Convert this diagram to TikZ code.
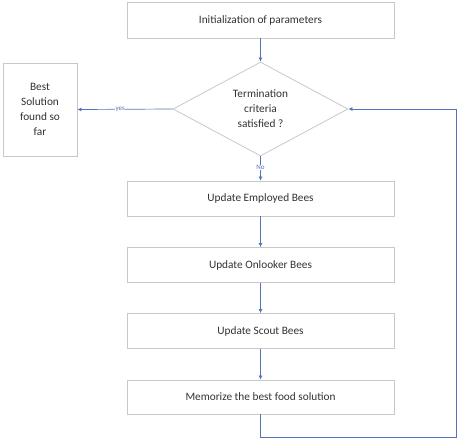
\documentclass[tikz,border=0pt]{standalone}
\usepackage{fontspec}
\setmainfont{Carlito}
\usetikzlibrary{arrows.meta,shapes.geometric}
\definecolor{boxline}{RGB}{200,200,200}
\definecolor{arrowc}{RGB}{84,116,184}
\definecolor{txt}{RGB}{50,50,50}
\begin{document}
\begin{tikzpicture}[x=1pt,y=-1pt,
  procbox/.style={draw=boxline,line width=0.8pt,fill=white,minimum width=267pt,minimum height=35pt,inner sep=0pt,font=\fontsize{11.3}{13.5}\selectfont,text=txt},
  flow/.style={draw=arrowc,line width=0.7pt,-{Latex[length=4pt,width=4pt]}},
  lab/.style={font=\fontsize{7}{8}\selectfont,text=arrowc,fill=white,inner sep=0.5pt}]
\useasboundingbox (0,0) rectangle (460,440);
\node[procbox,minimum height=36pt] (init) at (260.5,20) {Initialization of parameters};
\node[diamond,draw=boxline,line width=0.8pt,fill=white,minimum width=175pt,minimum height=94pt,inner sep=0pt,aspect=1.86,font=\fontsize{11.3}{15}\selectfont,text=txt,align=center] (dec) at (260.5,109) {Termination\\criteria\\satisfied ?};
\node[draw=boxline,line width=0.8pt,fill=white,minimum width=74pt,minimum height=93pt,inner sep=0pt,font=\fontsize{11.3}{15}\selectfont,text=txt,align=center] (best) at (40,109.5) {Best\\Solution\\found so\\far};
\node[procbox] (emp) at (260.5,198.5) {Update Employed Bees};
\node[procbox] (onl) at (260.5,265) {Update Onlooker Bees};
\node[procbox] (sco) at (260.5,331) {Update Scout Bees};
\node[procbox,minimum height=34pt] (mem) at (260.5,397) {Memorize the best food solution};
\coordinate (c1) at (456,437);
\draw[flow] (init) -- (dec.north);
\draw[flow] (dec.west) -- node[lab,pos=0.55]{yes} (best.east);
\draw[flow] (dec.south) -- node[lab,pos=0.45]{No} (emp.north);
\draw[flow] (emp) -- (onl);
\draw[flow] (onl) -- (sco);
\draw[flow] (sco) -- (mem);
\draw[flow] (mem.south) |- (c1) |- (dec.east);
\end{tikzpicture}
\end{document}
